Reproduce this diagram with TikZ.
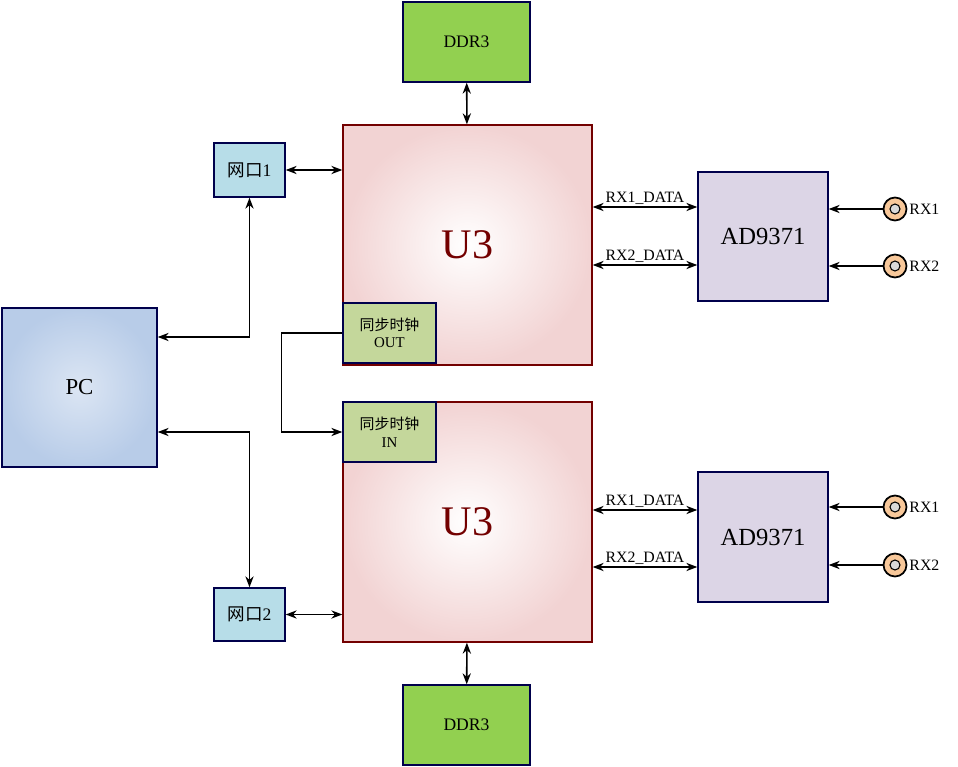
\documentclass[tikz,border=0pt]{standalone}
\usepackage{fontspec}
\setmainfont{Liberation Serif}
\newfontfamily\cjk{Noto Sans CJK SC}
\usetikzlibrary{arrows.meta}
\usetikzlibrary{positioning}
\definecolor{ddrgreen}{HTML}{92D050}
\definecolor{netblue}{HTML}{B7DDE8}
\definecolor{syncgreen}{HTML}{C4D79B}
\definecolor{adpurple}{HTML}{DCD5E6}
\definecolor{fpgared}{HTML}{F2D3D3}
\definecolor{pcblue}{HTML}{B8CCE8}
\definecolor{rxorange}{HTML}{F8C89A}
\tikzset{
	blk/.style = {draw=black!70!blue, line width=0.8pt, minimum width=#1, inner sep=0pt},
	bi/.style = {{Stealth[length=2.2mm]}-{Stealth[length=2.2mm]}, line width=0.9pt},
	uni/.style = {-{Stealth[length=2.2mm]}, line width=0.9pt},
	lbl/.style = {font=\fontsize{9}{10}\selectfont, inner sep=1pt, above},
}
\begin{document}
\begin{tikzpicture}[x=0.02cm, y=-0.02cm]
	\useasboundingbox (0,0) rectangle (958,767);
		% FPGA boards
		\node[blk=4.98cm, minimum height=4.8cm, draw=red!45!black, inner color=white, outer color=fpgared, font=\fontsize{24}{26}\selectfont, text=red!45!black] (U3a) at (467.5,245) {U3};
		\node[blk=4.98cm, minimum height=4.8cm, draw=red!45!black, inner color=white, outer color=fpgared, font=\fontsize{24}{26}\selectfont, text=red!45!black] (U3b) at (467.5,522) {U3};
		\node[blk=1.86cm, minimum height=1.2cm, fill=syncgreen, align=center, font=\fontsize{8.5}{10}\selectfont] (syncout) at (389.5,333) {{\cjk 同步时钟}\\OUT};
		\node[blk=1.86cm, minimum height=1.2cm, fill=syncgreen, align=center, font=\fontsize{8.5}{10}\selectfont] (syncin) at (389.5,432) {{\cjk 同步时钟}\\IN};
		\node[blk=2.54cm, minimum height=1.6cm, fill=ddrgreen, font=\fontsize{10}{12}\selectfont] (ddra) at (466.5,42) {DDR3};
		\node[blk=2.54cm, minimum height=1.6cm, fill=ddrgreen, font=\fontsize{10}{12}\selectfont] (ddrb) at (466.5,725) {DDR3};
		\node[blk=1.42cm, minimum height=1.08cm, fill=netblue, font=\fontsize{10}{12}\selectfont] (net1) at (249.5,170) {{\cjk 网口}1};
		\node[blk=1.42cm, minimum height=1.06cm, fill=netblue, font=\fontsize{10}{12}\selectfont] (net2) at (249.5,614.5) {{\cjk 网口}2};
		\node[blk=3.1cm, minimum height=3.18cm, inner color=pcblue!50, outer color=pcblue, font=\fontsize{13}{15}\selectfont] (pc) at (79.5,387.5) {PC};
		\node[blk=2.6cm, minimum height=2.58cm, fill=adpurple, font=\fontsize{14}{16}\selectfont] (ada) at (763,236.5) {AD9371};
		\node[blk=2.6cm, minimum height=2.6cm, fill=adpurple, font=\fontsize{14}{16}\selectfont] (adb) at (763,537) {AD9371};
		% RF inputs
		\foreach \n/\y in {a1/209, a2/266, b1/507, b2/565} {
			\node[circle, draw, line width=1pt, fill=rxorange, minimum size=0.46cm, inner sep=0pt] (rx\n) at (895,\y) {};
			\node[circle, draw, line width=0.6pt, fill=black!15, minimum size=0.2cm, inner sep=0pt] at (rx\n) {};
		}
		\node[right=0pt of rxa1, font=\fontsize{9}{10}\selectfont, inner sep=1pt] {RX1};
		\node[right=0pt of rxa2, font=\fontsize{9}{10}\selectfont, inner sep=1pt] {RX2};
		\node[right=0pt of rxb1, font=\fontsize{9}{10}\selectfont, inner sep=1pt] {RX1};
		\node[right=0pt of rxb2, font=\fontsize{9}{10}\selectfont, inner sep=1pt] {RX2};
		\foreach \n in {a1, a2, b1, b2}
			\draw[uni] (rx\n.west) -- (rx\n.west -| ada.east);
		% links
		\draw[bi] (ddra) -- (U3a);
		\draw[bi] (ddrb) -- (U3b);
		\draw[bi] (net1) -- (net1 -| U3a.west);
		\draw[bi] (net2) -- (net2 -| U3b.west);
		\draw[bi] (pc.east |- 0,337) -| (net1.south);
		\draw[bi] (pc.east |- 0,432) -| (net2.north);
		\draw[uni] (syncout.west) -- ++(-61,0) |- (syncin.west);
		\draw[bi] (U3a.east |- 0,207) -- node[lbl] {RX1\_DATA} (ada.west |- 0,207);
		\draw[bi] (U3a.east |- 0,265) -- node[lbl] {RX2\_DATA} (ada.west |- 0,265);
		\draw[bi] (U3b.east |- 0,510) -- node[lbl] {RX1\_DATA} (adb.west |- 0,510);
		\draw[bi] (U3b.east |- 0,567) -- node[lbl] {RX2\_DATA} (adb.west |- 0,567);
\end{tikzpicture}
\end{document}
